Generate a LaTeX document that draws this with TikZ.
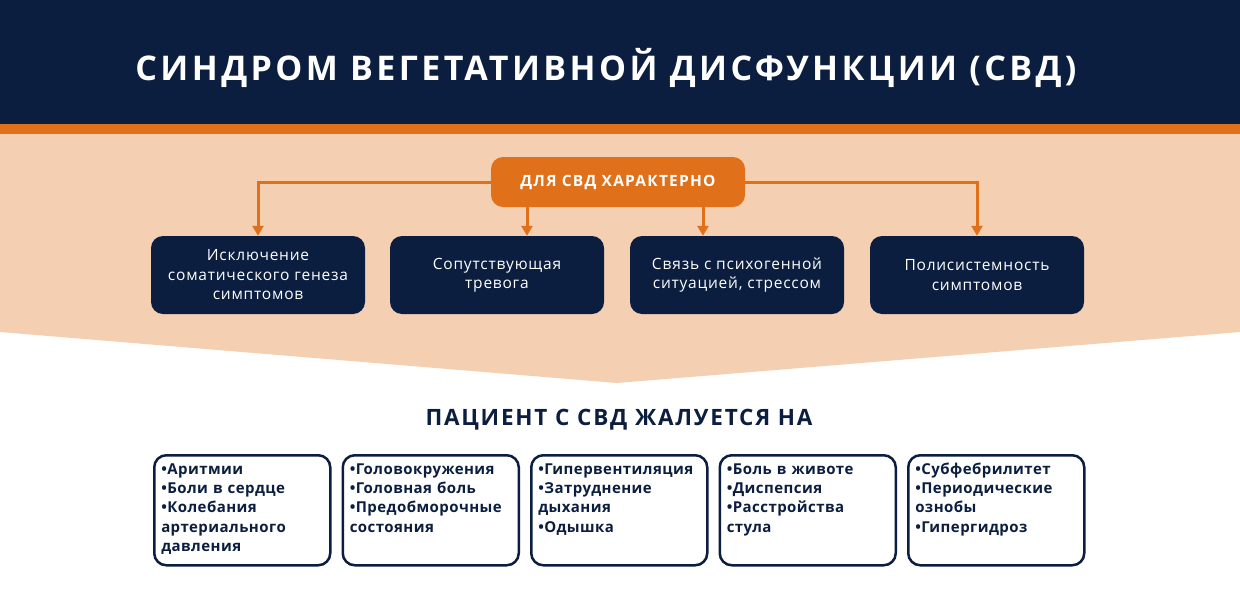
\documentclass[tikz,border=0pt]{standalone}
\usepackage{fontspec}
\setmainfont{Open Sans}
\newfontfamily\headfont{Open Sans}[LetterSpace=10]
\newfontfamily\subfont{Open Sans}[LetterSpace=8]
\newfontfamily\cardfont{Open Sans}[LetterSpace=5]
\newfontfamily\listfont{Open Sans}[LetterSpace=3]
\usetikzlibrary{positioning, arrows.meta}

\definecolor{navy}{HTML}{0B1E3F}
\definecolor{accent}{HTML}{E0711A}
\definecolor{peach}{HTML}{F5CFB1}

\begin{document}
\begin{tikzpicture}[
    x=1pt, y=-1pt,
    >={Triangle[width=11pt,length=10pt]},
    card/.style={fill=navy, text=white, rounded corners=12pt, minimum width=214pt,
        minimum height=78pt, align=center, font=\cardfont\fontsize{15.5}{19.5}\selectfont},
    keybox/.style={fill=accent, text=white, rounded corners=12pt, minimum width=254pt,
        minimum height=50pt, font=\subfont\bfseries\fontsize{15.5}{18}\selectfont},
    sign/.style={draw=navy, line width=2.5pt, fill=white, rounded corners=12pt,
        minimum width=176pt, text width=162pt, align=left, anchor=north west,
        inner xsep=7pt, inner ysep=8pt, text height=11pt, text depth=83pt,
        text=navy, font=\listfont\bfseries\fontsize{15}{19.3}\selectfont},
    link/.style={->, draw=accent, line width=3pt}
]

    % Background
    \fill[white] (0,0) rectangle (1240,600);
    \fill[navy] (0,0) rectangle (1240,124);
    \fill[accent] (0,124) rectangle (1240,134);
    \fill[peach] (0,134) -- (1240,134) -- (1240,332) -- (617,383) -- (0,332) -- cycle;
    \useasboundingbox (0,0) rectangle (1240,600);

    % Title
    \node[text=white, font=\headfont\bfseries\fontsize{34}{40}\selectfont] (TITLE) at (606,68)
        {СИНДРОМ ВЕГЕТАТИВНОЙ ДИСФУНКЦИИ (СВД)};

    % Top Level
    \node[keybox] (KEY) at (618,182) {ДЛЯ СВД ХАРАКТЕРНО};

    % Second Level
    \node[card] (EXCL) at (258,275) {Исключение\\соматического генеза\\симптомов};
    \node[card, right of=EXCL, node distance=239pt] (ANX) {Сопутствующая\\тревога};
    \node[card, right of=ANX, node distance=240pt] (STRS) {Связь с психогенной\\ситуацией, стрессом};
    \node[card, right of=STRS, node distance=240pt] (POLY) {Полисистемность\\симптомов};

    % Edges
    \draw[link] (KEY.west) -| (EXCL.north);
    \draw[link] ([xshift=-91pt]KEY.south) -- ([xshift=-91pt]KEY.south |- ANX.north);
    \draw[link] ([xshift=85pt]KEY.south) -- ([xshift=85pt]KEY.south |- STRS.north);
    \draw[link] (KEY.east) -| (POLY.north);

    % Complaints
    \node[text=navy, font=\subfont\bfseries\fontsize{22.5}{26}\selectfont] (COMPL) at (619,420)
        {ПАЦИЕНТ С СВД ЖАЛУЕТСЯ НА};

    \node[sign] (HEART) at (153,454) {•Аритмии\\•Боли в сердце\\•Колебания\\артериального\\давления};
    \node[sign, right=10pt of HEART.north east, anchor=north west] (HEAD) {•Головокружения\\•Головная боль\\•Предобморочные\\состояния};
    \node[sign, right=10pt of HEAD.north east, anchor=north west] (BREATH) {•Гипервентиляция\\•Затруднение\\дыхания\\•Одышка};
    \node[sign, right=10pt of BREATH.north east, anchor=north west] (STOM) {•Боль в животе\\•Диспепсия\\•Расстройства\\стула};
    \node[sign, right=10pt of STOM.north east, anchor=north west] (TEMP) {•Субфебрилитет\\•Периодические\\ознобы\\•Гипергидроз};

\end{tikzpicture}
\end{document}
